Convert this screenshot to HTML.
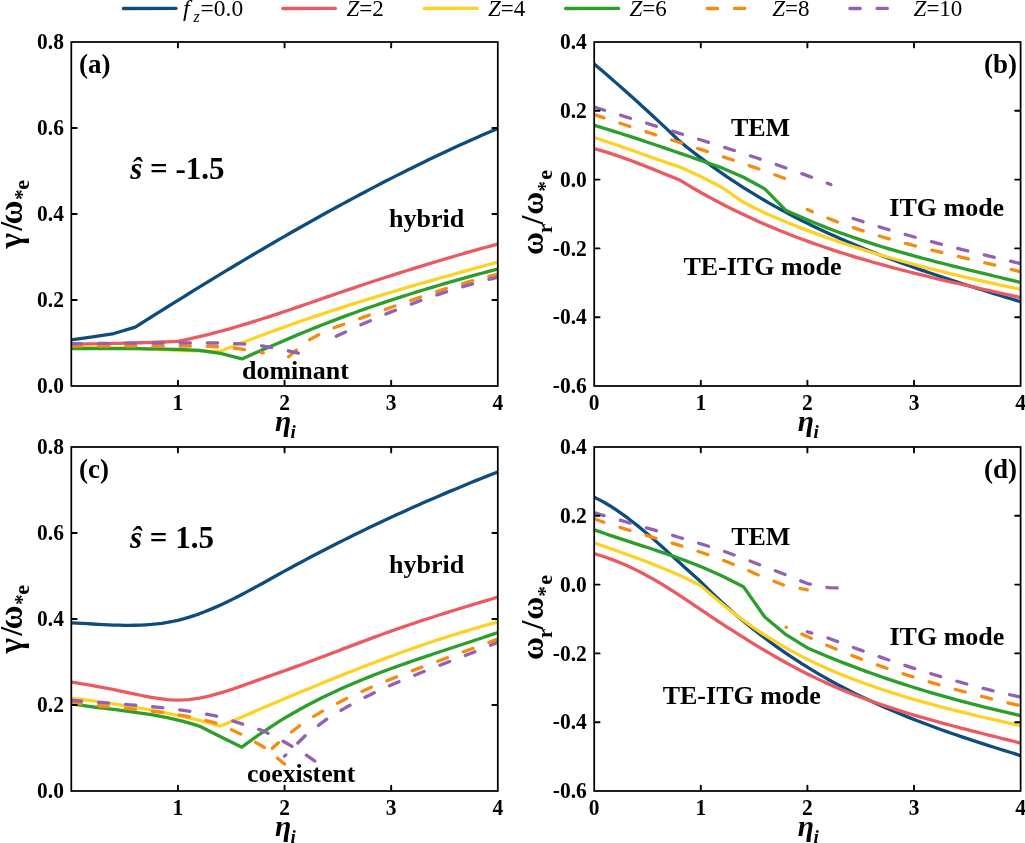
<!DOCTYPE html><html><head><meta charset="utf-8"><style>html,body{margin:0;padding:0;background:#fff;width:1025px;height:843px;overflow:hidden}svg{display:block;will-change:transform}text{font-family:"Liberation Serif",serif}</style></head><body>
<svg width="1025" height="843" viewBox="0 0 1025 843">
<rect width="1025" height="843" fill="#fff"/>
<defs>
<clipPath id="clipa"><rect x="71.3" y="42.0" width="426.50" height="344.00"/></clipPath>
<clipPath id="clipb"><rect x="594.2" y="42.0" width="426.40" height="344.00"/></clipPath>
<clipPath id="clipc"><rect x="71.3" y="447.0" width="426.50" height="344.00"/></clipPath>
<clipPath id="clipd"><rect x="594.2" y="447.0" width="426.40" height="344.00"/></clipPath>
</defs>
<g clip-path="url(#clipa)">
<polyline points="71.30,339.99 92.62,336.98 113.95,333.54 135.27,327.09 140.61,323.74 145.94,320.37 151.27,317.01 156.60,313.66 161.93,310.32 167.26,306.98 172.59,303.66 177.93,300.34 183.26,297.03 188.59,293.73 193.92,290.44 199.25,287.17 204.58,283.90 209.91,280.64 215.24,277.40 220.57,274.17 225.91,270.94 231.24,267.73 236.57,264.54 241.90,261.35 247.23,258.18 252.56,255.02 257.89,251.87 263.22,248.74 268.56,245.62 273.89,242.52 279.22,239.43 284.55,236.35 289.88,233.29 295.21,230.25 300.54,227.22 305.87,224.21 311.21,221.21 316.54,218.23 321.87,215.26 327.20,212.31 332.53,209.38 337.86,206.47 343.19,203.58 348.52,200.70 353.86,197.84 359.19,195.00 364.52,192.17 369.85,189.37 375.18,186.59 380.51,183.82 385.84,181.08 391.18,178.35 396.51,175.65 401.84,172.96 407.17,170.30 412.50,167.66 417.83,165.03 423.16,162.43 428.49,159.86 433.82,157.30 439.16,154.77 444.49,152.25 449.82,149.77 455.15,147.30 460.48,144.86 465.81,142.44 471.14,140.04 476.47,137.67 481.81,135.32 487.14,133.00 492.47,130.70 497.80,128.43" fill="none" stroke="#0f4c7e" stroke-width="3.3" stroke-linejoin="round" stroke-linecap="round"/>
<polyline points="71.30,344.29 76.63,344.19 81.96,344.09 87.29,343.99 92.62,343.88 97.96,343.78 103.29,343.67 108.62,343.56 113.95,343.45 119.28,343.33 124.61,343.20 129.94,343.06 135.28,342.92 140.61,342.76 145.94,342.59 151.27,342.41 156.60,342.22 161.93,342.01 167.26,341.78 172.59,341.54 177.93,341.28 183.26,340.24 188.59,339.12 193.92,337.94 199.25,336.70 204.58,335.42 209.91,334.08 215.24,332.70 220.57,331.28 225.91,329.81 231.24,328.30 236.57,326.76 241.90,325.18 247.23,323.57 252.56,321.92 257.89,320.25 263.23,318.55 268.56,316.83 273.89,315.08 279.22,313.32 284.55,311.54 289.88,309.74 295.21,307.93 300.54,306.11 305.88,304.29 311.21,302.45 316.54,300.61 321.87,298.77 327.20,296.93 332.53,295.10 337.86,293.27 343.19,291.45 348.53,289.63 353.86,287.83 359.19,286.04 364.52,284.26 369.85,282.50 375.18,280.74 380.51,279.00 385.84,277.28 391.18,275.56 396.51,273.86 401.84,272.17 407.17,270.49 412.50,268.83 417.83,267.18 423.16,265.55 428.49,263.92 433.83,262.31 439.16,260.72 444.49,259.14 449.82,257.57 455.15,256.02 460.48,254.48 465.81,252.95 471.14,251.44 476.48,249.95 481.81,248.46 487.14,247.00 492.47,245.55 497.80,244.11" fill="none" stroke="#eb5a62" stroke-width="3.3" stroke-linejoin="round" stroke-linecap="round"/>
<polyline points="71.30,347.73 76.63,347.60 81.96,347.51 87.29,347.47 92.62,347.47 97.96,347.50 103.29,347.57 108.62,347.67 113.95,347.80 119.28,347.95 124.61,348.12 129.94,348.31 135.27,348.52 140.61,348.73 145.94,348.96 151.27,349.19 156.60,349.42 161.93,349.65 167.26,349.88 172.59,350.10 177.92,350.31 183.26,350.50 188.59,350.67 193.92,350.83 199.25,350.96 204.58,351.06 209.91,351.13 215.24,351.17 220.57,351.17 225.91,349.03 231.24,346.92 236.57,344.82 241.90,342.75 247.23,340.70 252.56,338.67 257.89,336.67 263.22,334.68 268.56,332.71 273.89,330.76 279.22,328.84 284.55,326.93 289.88,325.04 295.21,323.17 300.54,321.31 305.88,319.48 311.21,317.66 316.54,315.86 321.87,314.07 327.20,312.30 332.53,310.55 337.86,308.81 343.19,307.09 348.53,305.38 353.86,303.69 359.19,302.01 364.52,300.34 369.85,298.69 375.18,297.05 380.51,295.43 385.84,293.81 391.18,292.21 396.51,290.62 401.84,289.04 407.17,287.48 412.50,285.92 417.83,284.37 423.16,282.84 428.49,281.31 433.82,279.79 439.16,278.28 444.49,276.78 449.82,275.29 455.15,273.80 460.48,272.32 465.81,270.85 471.14,269.39 476.48,267.93 481.81,266.48 487.14,265.03 492.47,263.59 497.80,262.16" fill="none" stroke="#fdd126" stroke-width="3.3" stroke-linejoin="round" stroke-linecap="round"/>
<polyline points="71.30,348.59 76.63,348.59 81.96,348.58 87.29,348.57 92.62,348.57 97.96,348.56 103.29,348.56 108.62,348.56 113.95,348.57 119.28,348.58 124.61,348.60 129.94,348.63 135.27,348.67 140.61,348.72 145.94,348.78 151.27,348.86 156.60,348.95 161.93,349.05 167.26,349.17 172.59,349.31 177.92,349.47 183.26,349.65 188.59,349.85 193.92,350.07 199.25,350.31 220.57,353.32 241.90,358.91 263.23,349.45 284.55,340.42 289.88,338.13 295.21,335.86 300.54,333.63 305.88,331.43 311.21,329.26 316.54,327.12 321.87,325.01 327.20,322.94 332.53,320.89 337.86,318.87 343.19,316.87 348.53,314.91 353.86,312.97 359.19,311.06 364.52,309.17 369.85,307.31 375.18,305.48 380.51,303.67 385.84,301.88 391.18,300.12 396.51,298.38 401.84,296.66 407.17,294.97 412.50,293.29 417.83,291.64 423.16,290.01 428.49,288.40 433.83,286.81 439.16,285.23 444.49,283.68 449.82,282.14 455.15,280.62 460.48,279.12 465.81,277.64 471.14,276.17 476.47,274.71 481.81,273.27 487.14,271.85 492.47,270.44 497.80,269.04" fill="none" stroke="#2b9e2b" stroke-width="3.3" stroke-linejoin="round" stroke-linecap="round"/>
<polyline points="71.30,346.01 76.63,346.01 81.96,346.01 87.29,346.01 92.62,346.01 97.96,346.01 103.29,346.01 108.62,346.01 113.95,346.01 119.28,346.01 124.61,346.01 129.94,346.01 135.27,346.01 140.61,346.01 145.94,346.01 151.27,346.01 156.60,346.01 161.93,346.01 167.26,346.01 172.59,346.01 177.92,346.01 183.26,346.01 188.59,346.01 193.92,346.01 199.25,346.01 220.57,346.87 241.90,349.02 263.23,352.89" fill="none" stroke="#f58b0f" stroke-width="3.3" stroke-linejoin="round" stroke-dasharray="10.3 16.9" stroke-dashoffset="0" stroke-linecap="round"/>
<polyline points="287.75,357.62 305.88,341.71 327.20,330.10 332.53,328.24 337.86,326.37 343.19,324.49 348.53,322.59 353.86,320.68 359.19,318.77 364.52,316.85 369.85,314.93 375.18,313.02 380.51,311.10 385.84,309.19 391.18,307.28 396.51,305.39 401.84,303.50 407.17,301.63 412.50,299.78 417.83,297.95 423.16,296.13 428.49,294.34 433.82,292.58 439.16,290.84 444.49,289.13 449.82,287.45 455.15,285.81 460.48,284.21 465.81,282.64 471.14,281.12 476.47,279.64 481.81,278.20 487.14,276.82 492.47,275.48 497.80,274.20" fill="none" stroke="#f58b0f" stroke-width="3.3" stroke-linejoin="round" stroke-dasharray="10.3 16.9" stroke-dashoffset="26.0" stroke-linecap="round"/>
<polyline points="71.30,343.86 76.63,343.76 81.96,343.67 87.29,343.59 92.62,343.51 97.96,343.44 103.29,343.38 108.62,343.32 113.95,343.27 119.28,343.22 124.61,343.18 129.94,343.14 135.27,343.11 140.61,343.08 145.94,343.05 151.27,343.03 156.60,343.02 161.93,343.00 167.26,342.99 172.59,342.98 177.92,342.98 183.26,342.98 188.59,342.97 193.92,342.98 199.25,342.98 204.58,342.98 209.91,342.99 215.24,342.99 220.57,343.00 241.90,343.86 263.23,346.01 284.55,349.88 300.54,353.75" fill="none" stroke="#9360b4" stroke-width="3.3" stroke-linejoin="round" stroke-dasharray="10.3 16.9" stroke-dashoffset="0" stroke-linecap="round"/>
<polyline points="336.26,336.34 341.65,333.76 347.03,331.22 352.42,328.72 357.80,326.26 363.19,323.84 368.57,321.46 373.96,319.13 379.34,316.83 384.72,314.57 390.11,312.36 395.49,310.19 400.88,308.06 406.26,305.97 411.65,303.93 417.03,301.92 422.42,299.96 427.80,298.05 433.19,296.18 438.57,294.35 443.95,292.56 449.34,290.83 454.72,289.13 460.11,287.48 465.49,285.88 470.88,284.32 476.26,282.80 481.65,281.34 487.03,279.91 492.42,278.54 497.80,277.21" fill="none" stroke="#9360b4" stroke-width="3.3" stroke-linejoin="round" stroke-dasharray="10.3 16.9" stroke-dashoffset="0" stroke-linecap="round"/>
</g>
<g clip-path="url(#clipb)">
<polyline points="594.20,64.02 599.53,68.55 604.86,73.12 610.19,77.72 615.52,82.37 620.85,87.05 626.18,91.77 631.51,96.53 636.84,101.33 642.17,106.16 647.50,111.04 652.83,115.95 658.16,120.90 663.49,125.88 668.82,130.91 674.15,135.97 679.48,141.07 684.81,145.44 690.14,149.69 695.47,153.86 700.80,157.93 706.13,161.92 711.46,165.82 716.79,169.63 722.12,173.37 727.45,177.02 732.78,180.60 738.11,184.10 743.44,187.52 748.77,190.87 754.10,194.15 759.43,197.35 764.76,200.49 770.09,203.56 775.42,206.57 780.75,209.52 786.08,212.40 791.41,215.22 796.74,217.99 802.07,220.69 807.40,223.35 812.73,225.95 818.06,228.50 823.39,231.00 828.72,233.45 834.05,235.86 839.38,238.22 844.71,240.54 850.04,242.82 855.37,245.06 860.70,247.26 866.03,249.42 871.36,251.55 876.69,253.65 882.02,255.71 887.35,257.74 892.68,259.74 898.01,261.71 903.34,263.65 908.67,265.57 914.00,267.46 919.33,269.32 924.66,271.16 929.99,272.98 935.32,274.78 940.65,276.56 945.98,278.32 951.31,280.07 956.64,281.80 961.97,283.51 967.30,285.21 972.63,286.90 977.96,288.57 983.29,290.24 988.62,291.90 993.95,293.55 999.28,295.19 1004.61,296.83 1009.94,298.47 1015.27,300.10 1020.60,301.74" fill="none" stroke="#0f4c7e" stroke-width="3.3" stroke-linejoin="round" stroke-linecap="round"/>
<polyline points="594.20,148.64 599.53,150.11 604.86,151.69 610.19,153.36 615.52,155.12 620.85,156.95 626.18,158.85 631.51,160.82 636.84,162.84 642.17,164.90 647.50,167.00 652.83,169.13 658.16,171.28 663.49,173.45 668.82,175.62 674.15,177.79 679.48,179.94 684.81,183.19 690.14,186.36 695.47,189.47 700.80,192.51 706.13,195.49 711.46,198.40 716.79,201.25 722.12,204.03 727.45,206.76 732.78,209.43 738.11,212.03 743.44,214.58 748.77,217.08 754.10,219.52 759.43,221.91 764.76,224.24 770.09,226.53 775.42,228.76 780.75,230.94 786.08,233.08 791.41,235.17 796.74,237.22 802.07,239.22 807.40,241.17 812.73,243.09 818.06,244.96 823.39,246.80 828.72,248.60 834.05,250.36 839.38,252.08 844.71,253.77 850.04,255.42 855.37,257.05 860.70,258.64 866.03,260.20 871.36,261.73 876.69,263.24 882.02,264.71 887.35,266.16 892.68,267.59 898.01,269.00 903.34,270.38 908.67,271.74 914.00,273.08 919.33,274.41 924.66,275.71 929.99,277.00 935.32,278.28 940.65,279.54 945.98,280.79 951.31,282.02 956.64,283.25 961.97,284.47 967.30,285.68 972.63,286.88 977.96,288.08 983.29,289.27 988.62,290.46 993.95,291.65 999.28,292.83 1004.61,294.02 1009.94,295.21 1015.27,296.40 1020.60,297.59" fill="none" stroke="#eb5a62" stroke-width="3.3" stroke-linejoin="round" stroke-linecap="round"/>
<polyline points="594.20,137.63 599.53,139.27 604.86,140.97 610.19,142.73 615.52,144.53 620.85,146.37 626.18,148.25 631.51,150.14 636.84,152.05 642.17,153.96 647.50,155.88 652.83,157.78 658.16,159.67 663.49,161.53 668.82,163.35 674.15,165.14 679.48,166.87 700.80,176.50 722.12,187.51 743.44,202.30 764.76,212.97 770.09,215.29 775.42,217.57 780.75,219.81 786.08,222.01 791.41,224.16 796.74,226.28 802.07,228.36 807.40,230.40 812.73,232.41 818.06,234.38 823.39,236.31 828.72,238.21 834.05,240.07 839.38,241.90 844.71,243.70 850.04,245.46 855.37,247.20 860.70,248.90 866.03,250.57 871.36,252.22 876.69,253.83 882.02,255.42 887.35,256.98 892.68,258.51 898.01,260.02 903.34,261.51 908.67,262.97 914.00,264.40 919.33,265.82 924.66,267.21 929.99,268.58 935.32,269.93 940.65,271.26 945.98,272.57 951.31,273.87 956.64,275.14 961.97,276.40 967.30,277.64 972.63,278.87 977.96,280.08 983.29,281.28 988.62,282.47 993.95,283.64 999.28,284.80 1004.61,285.95 1009.94,287.09 1015.27,288.22 1020.60,289.34" fill="none" stroke="#fdd126" stroke-width="3.3" stroke-linejoin="round" stroke-linecap="round"/>
<polyline points="594.20,125.25 599.53,126.85 604.86,128.48 610.19,130.14 615.52,131.81 620.85,133.50 626.18,135.21 631.51,136.93 636.84,138.68 642.17,140.43 647.50,142.21 652.83,143.99 658.16,145.79 663.49,147.59 668.82,149.41 674.15,151.24 679.48,153.07 684.81,154.91 690.14,156.76 695.47,158.61 700.80,160.47 706.13,162.33 711.46,164.19 716.79,166.04 722.12,167.90 743.44,177.19 764.76,188.89 786.08,210.56 807.40,219.85 812.73,222.08 818.06,224.26 823.39,226.39 828.72,228.46 834.05,230.49 839.38,232.46 844.71,234.39 850.04,236.28 855.37,238.11 860.70,239.91 866.03,241.67 871.36,243.38 876.69,245.06 882.02,246.71 887.35,248.32 892.68,249.90 898.01,251.44 903.34,252.96 908.67,254.45 914.00,255.92 919.33,257.36 924.66,258.78 929.99,260.18 935.32,261.56 940.65,262.92 945.98,264.27 951.31,265.60 956.64,266.92 961.97,268.24 967.30,269.54 972.63,270.83 977.96,272.12 983.29,273.41 988.62,274.70 993.95,275.98 999.28,277.26 1004.61,278.55 1009.94,279.85 1015.27,281.15 1020.60,282.45" fill="none" stroke="#2b9e2b" stroke-width="3.3" stroke-linejoin="round" stroke-linecap="round"/>
<polyline points="594.20,114.58 599.53,116.39 604.86,118.19 610.19,119.97 615.52,121.74 620.85,123.50 626.18,125.26 631.51,127.00 636.84,128.74 642.17,130.47 647.50,132.20 652.83,133.92 658.16,135.64 663.49,137.36 668.82,139.08 674.15,140.79 679.48,142.51 684.81,144.24 690.14,145.96 695.47,147.69 700.80,149.43 706.13,151.17 711.46,152.93 716.79,154.69 722.12,156.46 727.45,158.24 732.78,160.04 738.11,161.85 743.44,163.67 748.77,165.51 754.10,167.36 759.43,169.24 764.76,171.13 770.09,173.04 775.42,174.98 780.75,176.93 786.08,178.91" fill="none" stroke="#f58b0f" stroke-width="3.3" stroke-linejoin="round" stroke-dasharray="10.3 16.9" stroke-dashoffset="0" stroke-linecap="round"/>
<polyline points="807.40,209.53 812.73,211.90 818.06,214.19 823.39,216.41 828.72,218.56 834.05,220.65 839.38,222.66 844.71,224.62 850.04,226.51 855.37,228.35 860.70,230.13 866.03,231.86 871.36,233.54 876.69,235.18 882.02,236.77 887.35,238.33 892.68,239.84 898.01,241.32 903.34,242.76 908.67,244.18 914.00,245.57 919.33,246.93 924.66,248.28 929.99,249.60 935.32,250.91 940.65,252.20 945.98,253.48 951.31,254.76 956.64,256.02 961.97,257.29 967.30,258.56 972.63,259.82 977.96,261.10 983.29,262.38 988.62,263.67 993.95,264.97 999.28,266.30 1004.61,267.64 1009.94,269.00 1015.27,270.38 1020.60,271.79" fill="none" stroke="#f58b0f" stroke-width="3.3" stroke-linejoin="round" stroke-dasharray="10.3 16.9" stroke-dashoffset="4.9" stroke-linecap="round"/>
<polyline points="594.20,107.01 599.58,108.70 604.96,110.39 610.34,112.07 615.71,113.74 621.09,115.40 626.47,117.06 631.85,118.71 637.23,120.37 642.61,122.02 647.98,123.66 653.36,125.31 658.74,126.96 664.12,128.60 669.50,130.25 674.88,131.90 680.26,133.56 685.63,135.22 691.01,136.88 696.39,138.55 701.77,140.22 707.15,141.91 712.53,143.60 717.90,145.30 723.28,147.01 728.66,148.73 734.04,150.46 739.42,152.21 744.80,153.97 750.18,155.74 755.55,157.53 760.93,159.33 766.31,161.15 771.69,162.99 777.07,164.84 782.45,166.72 787.82,168.61 793.20,170.53 798.58,172.46 803.96,174.42 809.34,176.40 814.72,178.41 820.10,180.44 825.47,182.50 830.85,184.58" fill="none" stroke="#9360b4" stroke-width="3.3" stroke-linejoin="round" stroke-dasharray="10.3 16.9" stroke-dashoffset="26.7" stroke-linecap="round"/>
<polyline points="853.24,218.47 858.64,220.26 864.04,222.01 869.43,223.73 874.83,225.43 880.23,227.09 885.63,228.73 891.03,230.34 896.43,231.92 901.83,233.48 907.23,235.02 912.62,236.53 918.02,238.03 923.42,239.50 928.82,240.95 934.22,242.38 939.62,243.79 945.02,245.19 950.42,246.57 955.81,247.94 961.21,249.29 966.61,250.63 972.01,251.96 977.41,253.28 982.81,254.59 988.21,255.88 993.61,257.17 999.00,258.46 1004.40,259.73 1009.80,261.00 1015.20,262.27 1020.60,263.54" fill="none" stroke="#9360b4" stroke-width="3.3" stroke-linejoin="round" stroke-dasharray="10.3 16.9" stroke-dashoffset="0" stroke-linecap="round"/>
</g>
<g clip-path="url(#clipc)">
<polyline points="71.30,622.87 76.63,623.11 81.96,623.38 87.29,623.68 92.62,623.98 97.96,624.28 103.29,624.56 108.62,624.82 113.95,625.03 119.28,625.20 124.61,625.30 129.94,625.33 135.28,625.27 140.61,625.12 145.94,624.85 151.27,624.47 156.60,623.95 161.93,623.28 167.26,622.46 172.59,621.47 177.93,620.30 183.26,618.94 188.59,617.40 193.92,615.69 199.25,613.83 204.58,611.81 209.91,609.65 215.24,607.37 220.57,604.98 225.91,602.47 231.24,599.88 236.57,597.20 241.90,594.44 247.23,591.63 252.56,588.77 257.89,585.86 263.23,582.93 268.56,579.97 273.89,577.01 279.22,574.06 284.55,571.12 289.88,568.20 295.21,565.30 300.54,562.44 305.88,559.59 311.21,556.77 316.54,553.98 321.87,551.20 327.20,548.46 332.53,545.73 337.86,543.03 343.19,540.35 348.53,537.70 353.86,535.07 359.19,532.46 364.52,529.87 369.85,527.31 375.18,524.76 380.51,522.24 385.84,519.74 391.18,517.27 396.51,514.81 401.84,512.38 407.17,509.96 412.50,507.57 417.83,505.20 423.16,502.85 428.49,500.51 433.83,498.20 439.16,495.91 444.49,493.64 449.82,491.38 455.15,489.15 460.48,486.93 465.81,484.74 471.14,482.56 476.48,480.40 481.81,478.26 487.14,476.14 492.47,474.03 497.80,471.94" fill="none" stroke="#0f4c7e" stroke-width="3.3" stroke-linejoin="round" stroke-linecap="round"/>
<polyline points="71.30,682.21 76.63,682.98 81.96,683.80 87.29,684.69 92.62,685.62 97.96,686.59 103.29,687.61 108.62,688.65 113.95,689.72 119.28,690.81 124.61,691.92 129.94,693.03 135.28,694.15 140.61,695.25 145.94,696.32 151.27,697.32 156.60,698.22 161.93,698.97 167.26,699.55 172.59,699.92 177.93,700.05 183.26,699.92 188.59,699.53 193.92,698.90 199.25,698.06 204.58,697.02 209.91,695.80 215.24,694.43 220.57,692.92 225.91,691.29 231.24,689.57 236.57,687.77 241.90,685.91 247.23,684.01 252.56,682.09 257.89,680.17 263.23,678.26 268.56,676.37 273.89,674.50 279.22,672.62 284.55,670.74 289.88,668.83 295.21,666.90 300.54,664.95 305.88,662.98 311.21,660.99 316.54,658.99 321.87,656.98 327.20,654.97 332.53,652.95 337.86,650.92 343.19,648.90 348.53,646.87 353.86,644.86 359.19,642.85 364.52,640.85 369.85,638.87 375.18,636.90 380.51,634.95 385.84,633.02 391.18,631.11 396.51,629.23 401.84,627.38 407.17,625.55 412.50,623.74 417.83,621.95 423.16,620.19 428.49,618.45 433.83,616.72 439.16,615.02 444.49,613.33 449.82,611.65 455.15,610.00 460.48,608.35 465.81,606.72 471.14,605.10 476.48,603.50 481.81,601.90 487.14,600.31 492.47,598.73 497.80,597.16" fill="none" stroke="#eb5a62" stroke-width="3.3" stroke-linejoin="round" stroke-linecap="round"/>
<polyline points="71.30,698.12 76.63,698.80 81.96,699.50 87.29,700.20 92.62,700.92 97.96,701.66 103.29,702.41 108.62,703.19 113.95,703.98 119.28,704.79 124.61,705.63 129.94,706.49 135.27,707.38 140.61,708.29 145.94,709.23 151.27,710.20 156.60,711.20 161.93,712.23 167.26,713.30 172.59,714.40 177.92,715.54 183.26,716.71 188.59,717.92 193.92,719.17 199.25,720.47 204.58,721.80 209.91,723.18 215.24,724.60 220.57,726.07 225.91,723.78 231.24,721.50 236.57,719.21 241.90,716.93 247.23,714.65 252.56,712.37 257.89,710.09 263.22,707.82 268.56,705.55 273.89,703.29 279.22,701.03 284.55,698.78 289.88,696.54 295.21,694.30 300.54,692.07 305.88,689.86 311.21,687.65 316.54,685.45 321.87,683.26 327.20,681.09 332.53,678.93 337.86,676.78 343.19,674.65 348.53,672.53 353.86,670.42 359.19,668.34 364.52,666.27 369.85,664.21 375.18,662.18 380.51,660.16 385.84,658.17 391.18,656.19 396.51,654.24 401.84,652.30 407.17,650.39 412.50,648.51 417.83,646.64 423.16,644.80 428.49,642.99 433.82,641.20 439.16,639.44 444.49,637.71 449.82,636.00 455.15,634.32 460.48,632.67 465.81,631.05 471.14,629.47 476.48,627.91 481.81,626.39 487.14,624.90 492.47,623.44 497.80,622.01" fill="none" stroke="#fdd126" stroke-width="3.3" stroke-linejoin="round" stroke-linecap="round"/>
<polyline points="71.30,703.71 76.63,704.55 81.96,705.33 87.29,706.08 92.62,706.80 97.96,707.49 103.29,708.16 108.62,708.82 113.95,709.48 119.28,710.15 124.61,710.83 129.94,711.53 135.27,712.26 140.61,713.02 145.94,713.84 151.27,714.70 156.60,715.62 161.93,716.61 167.26,717.67 172.59,718.82 177.92,720.06 183.26,721.40 188.59,722.84 193.92,724.39 199.25,726.07 220.57,736.82 241.90,747.14 247.23,743.13 252.56,739.26 257.89,735.49 263.23,731.83 268.56,728.28 273.89,724.82 279.22,721.47 284.55,718.21 289.88,715.04 295.21,711.96 300.54,708.97 305.88,706.06 311.21,703.24 316.54,700.49 321.87,697.81 327.20,695.21 332.53,692.68 337.86,690.21 343.19,687.81 348.53,685.46 353.86,683.18 359.19,680.95 364.52,678.77 369.85,676.64 375.18,674.55 380.51,672.51 385.84,670.51 391.18,668.54 396.51,666.61 401.84,664.71 407.17,662.84 412.50,660.99 417.83,659.17 423.16,657.36 428.49,655.58 433.82,653.80 439.16,652.04 444.49,650.29 449.82,648.54 455.15,646.79 460.48,645.04 465.81,643.29 471.14,641.53 476.47,639.76 481.81,637.98 487.14,636.18 492.47,634.37 497.80,632.53" fill="none" stroke="#2b9e2b" stroke-width="3.3" stroke-linejoin="round" stroke-linecap="round"/>
<polyline points="71.30,702.42 76.63,703.16 81.96,703.85 87.29,704.50 92.62,705.12 97.96,705.70 103.29,706.26 108.62,706.80 113.95,707.33 119.28,707.86 124.61,708.38 129.94,708.90 135.27,709.44 140.61,709.99 145.94,710.57 151.27,711.17 156.60,711.80 161.93,712.47 167.26,713.19 172.59,713.96 177.92,714.79 183.26,715.67 188.59,716.63 193.92,717.65 199.25,718.76 220.57,724.35 241.90,734.67 263.23,746.71 284.55,763.91" fill="none" stroke="#f58b0f" stroke-width="3.3" stroke-linejoin="round" stroke-dasharray="10.3 16.9" stroke-dashoffset="0" stroke-linecap="round"/>
<polyline points="272.29,748.30 284.55,737.25 305.88,720.91 327.20,708.44 332.53,705.64 337.86,702.92 343.19,700.26 348.53,697.67 353.86,695.15 359.19,692.69 364.52,690.28 369.85,687.93 375.18,685.63 380.51,683.37 385.84,681.16 391.18,678.99 396.51,676.85 401.84,674.75 407.17,672.69 412.50,670.64 417.83,668.63 423.16,666.63 428.49,664.65 433.82,662.68 439.16,660.73 444.49,658.78 449.82,656.84 455.15,654.89 460.48,652.95 465.81,651.00 471.14,649.04 476.47,647.07 481.81,645.08 487.14,643.08 492.47,641.05 497.80,638.99" fill="none" stroke="#f58b0f" stroke-width="3.3" stroke-linejoin="round" stroke-dasharray="10.3 16.9" stroke-dashoffset="2.0" stroke-linecap="round"/>
<polyline points="71.30,700.27 76.63,700.72 81.96,701.15 87.29,701.57 92.62,701.98 97.96,702.38 103.29,702.77 108.62,703.16 113.95,703.56 119.28,703.96 124.61,704.36 129.94,704.78 135.27,705.21 140.61,705.66 145.94,706.13 151.27,706.63 156.60,707.15 161.93,707.71 167.26,708.30 172.59,708.93 177.92,709.59 183.26,710.31 188.59,711.07 193.92,711.88 199.25,712.74 220.57,717.04 241.90,723.92 263.23,730.80 284.55,741.98 305.88,754.88 316.54,762.19" fill="none" stroke="#9360b4" stroke-width="3.3" stroke-linejoin="round" stroke-dasharray="10.3 16.9" stroke-dashoffset="0" stroke-linecap="round"/>
<polyline points="284.55,756.17 305.88,735.10 327.20,718.76 332.53,715.42 337.86,712.18 343.19,709.06 348.53,706.05 353.86,703.13 359.19,700.31 364.52,697.57 369.85,694.92 375.18,692.34 380.51,689.84 385.84,687.41 391.18,685.04 396.51,682.72 401.84,680.45 407.17,678.23 412.50,676.05 417.83,673.91 423.16,671.79 428.49,669.70 433.82,667.62 439.16,665.56 444.49,663.51 449.82,661.46 455.15,659.40 460.48,657.34 465.81,655.27 471.14,653.17 476.47,651.05 481.81,648.90 487.14,646.72 492.47,644.49 497.80,642.22" fill="none" stroke="#9360b4" stroke-width="3.3" stroke-linejoin="round" stroke-dasharray="10.3 16.9" stroke-dashoffset="8.5" stroke-linecap="round"/>
</g>
<g clip-path="url(#clipd)">
<polyline points="594.20,497.22 599.53,499.86 604.86,502.78 610.19,505.97 615.52,509.39 620.85,513.04 626.18,516.90 631.51,520.94 636.84,525.15 642.17,529.51 647.50,534.00 652.83,538.59 658.16,543.28 663.49,548.05 668.82,552.87 674.15,557.72 679.48,562.59 684.81,567.45 690.14,572.30 695.47,577.10 700.80,581.85 706.13,587.20 711.46,592.41 716.79,597.50 722.12,602.46 727.45,607.30 732.78,612.03 738.11,616.64 743.44,621.14 748.77,625.53 754.10,629.81 759.43,633.98 764.76,638.05 770.09,642.03 775.42,645.90 780.75,649.67 786.08,653.35 791.41,656.94 796.74,660.44 802.07,663.86 807.40,667.18 812.73,670.43 818.06,673.60 823.39,676.68 828.72,679.70 834.05,682.63 839.38,685.50 844.71,688.30 850.04,691.04 855.37,693.71 860.70,696.31 866.03,698.86 871.36,701.35 876.69,703.79 882.02,706.18 887.35,708.51 892.68,710.79 898.01,713.03 903.34,715.22 908.67,717.37 914.00,719.47 919.33,721.54 924.66,723.57 929.99,725.56 935.32,727.51 940.65,729.44 945.98,731.33 951.31,733.19 956.64,735.03 961.97,736.84 967.30,738.63 972.63,740.39 977.96,742.13 983.29,743.86 988.62,745.57 993.95,747.27 999.28,748.95 1004.61,750.62 1009.94,752.28 1015.27,753.94 1020.60,755.58" fill="none" stroke="#0f4c7e" stroke-width="3.3" stroke-linejoin="round" stroke-linecap="round"/>
<polyline points="594.20,553.65 599.53,555.23 604.86,556.96 610.19,558.84 615.52,560.87 620.85,563.04 626.18,565.34 631.51,567.79 636.84,570.37 642.17,573.09 647.50,575.93 652.83,578.90 658.16,581.99 663.49,585.21 668.82,588.52 674.15,591.93 679.48,595.40 684.81,598.93 690.14,602.49 695.47,606.07 700.80,609.65 706.13,613.22 711.46,616.77 716.79,620.29 722.12,623.79 727.45,627.26 732.78,630.70 738.11,634.11 743.44,637.47 748.77,640.80 754.10,644.09 759.43,647.33 764.76,650.52 770.09,653.66 775.42,656.74 780.75,659.77 786.08,662.74 791.41,665.65 796.74,668.48 802.07,671.26 807.40,673.95 812.73,676.58 818.06,679.13 823.39,681.61 828.72,684.03 834.05,686.37 839.38,688.66 844.71,690.88 850.04,693.04 855.37,695.14 860.70,697.19 866.03,699.18 871.36,701.13 876.69,703.02 882.02,704.87 887.35,706.67 892.68,708.42 898.01,710.14 903.34,711.82 908.67,713.46 914.00,715.06 919.33,716.64 924.66,718.18 929.99,719.69 935.32,721.18 940.65,722.65 945.98,724.09 951.31,725.51 956.64,726.91 961.97,728.30 967.30,729.67 972.63,731.04 977.96,732.39 983.29,733.73 988.62,735.07 993.95,736.41 999.28,737.75 1004.61,739.08 1009.94,740.42 1015.27,741.77 1020.60,743.12" fill="none" stroke="#eb5a62" stroke-width="3.3" stroke-linejoin="round" stroke-linecap="round"/>
<polyline points="594.20,542.87 599.53,544.75 604.86,546.63 610.19,548.50 615.52,550.38 620.85,552.27 626.18,554.18 631.51,556.11 636.84,558.07 642.17,560.05 647.50,562.08 652.83,564.15 658.16,566.27 663.49,568.45 668.82,570.68 674.15,572.98 679.48,575.35 684.81,577.79 690.14,580.31 695.47,582.93 700.80,585.63 706.13,590.37 711.46,595.01 716.79,599.52 722.12,603.92 727.45,608.20 732.78,612.37 738.11,616.42 743.44,620.36 748.77,624.19 754.10,627.91 759.43,631.51 764.76,635.01 770.09,638.41 775.42,641.69 780.75,644.87 786.08,647.95 791.41,650.93 796.74,653.81 802.07,656.60 807.40,659.29 812.73,661.89 818.06,664.42 823.39,666.86 828.72,669.22 834.05,671.51 839.38,673.74 844.71,675.89 850.04,677.99 855.37,680.02 860.70,682.00 866.03,683.93 871.36,685.81 876.69,687.64 882.02,689.44 887.35,691.19 892.68,692.90 898.01,694.57 903.34,696.21 908.67,697.81 914.00,699.37 919.33,700.90 924.66,702.40 929.99,703.88 935.32,705.32 940.65,706.73 945.98,708.12 951.31,709.48 956.64,710.83 961.97,712.15 967.30,713.44 972.63,714.73 977.96,715.99 983.29,717.24 988.62,718.47 993.95,719.69 999.28,720.90 1004.61,722.10 1009.94,723.29 1015.27,724.47 1020.60,725.64" fill="none" stroke="#fdd126" stroke-width="3.3" stroke-linejoin="round" stroke-linecap="round"/>
<polyline points="594.20,529.80 599.53,531.68 604.86,533.52 610.19,535.33 615.52,537.11 620.85,538.87 626.18,540.61 631.51,542.34 636.84,544.08 642.17,545.81 647.50,547.55 652.83,549.30 658.16,551.07 663.49,552.87 668.82,554.70 674.15,556.56 679.48,558.46 684.81,560.41 690.14,562.42 695.47,564.48 700.80,566.61 722.12,576.10 743.44,586.66 764.76,616.94 786.08,634.72 807.40,647.90 812.73,650.22 818.06,652.50 823.39,654.74 828.72,656.95 834.05,659.11 839.38,661.24 844.71,663.34 850.04,665.39 855.37,667.41 860.70,669.40 866.03,671.35 871.36,673.27 876.69,675.15 882.02,677.01 887.35,678.83 892.68,680.61 898.01,682.37 903.34,684.10 908.67,685.80 914.00,687.47 919.33,689.11 924.66,690.72 929.99,692.31 935.32,693.87 940.65,695.40 945.98,696.91 951.31,698.39 956.64,699.85 961.97,701.29 967.30,702.70 972.63,704.09 977.96,705.45 983.29,706.80 988.62,708.12 993.95,709.43 999.28,710.71 1004.61,711.98 1009.94,713.22 1015.27,714.45 1020.60,715.66" fill="none" stroke="#2b9e2b" stroke-width="3.3" stroke-linejoin="round" stroke-linecap="round"/>
<polyline points="594.20,518.90 599.53,520.74 604.86,522.54 610.19,524.29 615.52,526.00 620.85,527.67 626.18,529.32 631.51,530.94 636.84,532.55 642.17,534.14 647.50,535.72 652.83,537.30 658.16,538.89 663.49,540.47 668.82,542.07 674.15,543.69 679.48,545.33 684.81,546.99 690.14,548.69 695.47,550.43 700.80,552.20 706.13,554.03 711.46,555.90 716.79,557.84 722.12,559.83 743.44,568.43 764.76,577.72 786.08,585.98 807.40,589.76" fill="none" stroke="#f58b0f" stroke-width="3.3" stroke-linejoin="round" stroke-dasharray="10.3 16.9" stroke-dashoffset="0" stroke-linecap="round"/>
<polyline points="786.08,627.26 807.40,636.54 812.73,638.99 818.06,641.38 823.39,643.72 828.72,646.02 834.05,648.27 839.38,650.48 844.71,652.64 850.04,654.77 855.37,656.85 860.70,658.88 866.03,660.88 871.36,662.84 876.69,664.77 882.02,666.65 887.35,668.50 892.68,670.32 898.01,672.10 903.34,673.85 908.67,675.57 914.00,677.25 919.33,678.90 924.66,680.53 929.99,682.13 935.32,683.70 940.65,685.24 945.98,686.76 951.31,688.25 956.64,689.72 961.97,691.17 967.30,692.59 972.63,694.00 977.96,695.38 983.29,696.75 988.62,698.10 993.95,699.43 999.28,700.74 1004.61,702.04 1009.94,703.33 1015.27,704.60 1020.60,705.86" fill="none" stroke="#f58b0f" stroke-width="3.3" stroke-linejoin="round" stroke-dasharray="10.3 16.9" stroke-dashoffset="10.0" stroke-linecap="round"/>
<polyline points="594.20,512.70 599.53,514.26 604.86,515.82 610.19,517.36 615.52,518.91 620.85,520.45 626.18,521.98 631.51,523.52 636.84,525.05 642.17,526.59 647.50,528.13 652.83,529.67 658.16,531.22 663.49,532.77 668.82,534.33 674.15,535.89 679.48,537.47 684.81,539.05 690.14,540.65 695.47,542.26 700.80,543.89 706.13,545.52 711.46,547.18 716.79,548.85 722.12,550.54 743.44,558.46 764.76,566.71 786.08,574.97 807.40,583.57 828.72,587.70 839.38,588.04" fill="none" stroke="#9360b4" stroke-width="3.3" stroke-linejoin="round" stroke-dasharray="10.3 16.9" stroke-dashoffset="0" stroke-linecap="round"/>
<polyline points="807.40,631.73 828.72,638.26 834.05,640.28 839.38,642.28 844.71,644.26 850.04,646.23 855.37,648.18 860.70,650.11 866.03,652.02 871.36,653.91 876.69,655.79 882.02,657.64 887.35,659.48 892.68,661.29 898.01,663.08 903.34,664.85 908.67,666.60 914.00,668.32 919.33,670.02 924.66,671.69 929.99,673.34 935.32,674.97 940.65,676.57 945.98,678.14 951.31,679.69 956.64,681.20 961.97,682.69 967.30,684.16 972.63,685.59 977.96,686.99 983.29,688.36 988.62,689.71 993.95,691.02 999.28,692.30 1004.61,693.54 1009.94,694.76 1015.27,695.94 1020.60,697.09" fill="none" stroke="#9360b4" stroke-width="3.3" stroke-linejoin="round" stroke-dasharray="10.3 16.9" stroke-dashoffset="5.7" stroke-linecap="round"/>
</g>
<path d="M177.93,385.10V380.60M177.93,42.90V47.40M284.55,385.10V380.60M284.55,42.90V47.40M391.18,385.10V380.60M391.18,42.90V47.40M72.20,300.00H76.70M496.90,300.00H492.40M72.20,214.00H76.70M496.90,214.00H492.40M72.20,128.00H76.70M496.90,128.00H492.40" stroke="#000" stroke-width="1.9" stroke-linecap="round" fill="none"/>
<rect x="71.3" y="42.0" width="426.50" height="344.00" fill="none" stroke="#000" stroke-width="1.75"/>
<text transform="translate(177.93,409.60) scale(1,1.055)" font-size="21.5" font-weight="bold" text-anchor="middle">1</text>
<text transform="translate(284.55,409.60) scale(1,1.055)" font-size="21.5" font-weight="bold" text-anchor="middle">2</text>
<text transform="translate(391.18,409.60) scale(1,1.055)" font-size="21.5" font-weight="bold" text-anchor="middle">3</text>
<text transform="translate(497.80,409.60) scale(1,1.055)" font-size="21.5" font-weight="bold" text-anchor="middle">4</text>
<text transform="translate(63.90,393.20) scale(1,1.065)" font-size="21.5" font-weight="bold" text-anchor="end">0.0</text>
<text transform="translate(63.90,307.20) scale(1,1.065)" font-size="21.5" font-weight="bold" text-anchor="end">0.2</text>
<text transform="translate(63.90,221.20) scale(1,1.065)" font-size="21.5" font-weight="bold" text-anchor="end">0.4</text>
<text transform="translate(63.90,135.20) scale(1,1.065)" font-size="21.5" font-weight="bold" text-anchor="end">0.6</text>
<text transform="translate(63.90,49.20) scale(1,1.065)" font-size="21.5" font-weight="bold" text-anchor="end">0.8</text>
<path d="M700.80,385.10V380.60M700.80,42.90V47.40M807.40,385.10V380.60M807.40,42.90V47.40M914.00,385.10V380.60M914.00,42.90V47.40M595.10,317.20H599.60M1019.70,317.20H1015.20M595.10,248.40H599.60M1019.70,248.40H1015.20M595.10,179.60H599.60M1019.70,179.60H1015.20M595.10,110.80H599.60M1019.70,110.80H1015.20" stroke="#000" stroke-width="1.9" stroke-linecap="round" fill="none"/>
<rect x="594.2" y="42.0" width="426.40" height="344.00" fill="none" stroke="#000" stroke-width="1.75"/>
<text transform="translate(594.20,409.60) scale(1,1.055)" font-size="21.5" font-weight="bold" text-anchor="middle">0</text>
<text transform="translate(700.80,409.60) scale(1,1.055)" font-size="21.5" font-weight="bold" text-anchor="middle">1</text>
<text transform="translate(807.40,409.60) scale(1,1.055)" font-size="21.5" font-weight="bold" text-anchor="middle">2</text>
<text transform="translate(914.00,409.60) scale(1,1.055)" font-size="21.5" font-weight="bold" text-anchor="middle">3</text>
<text transform="translate(1020.60,409.60) scale(1,1.055)" font-size="21.5" font-weight="bold" text-anchor="middle">4</text>
<text transform="translate(586.80,393.20) scale(1,1.065)" font-size="21.5" font-weight="bold" text-anchor="end">-0.6</text>
<text transform="translate(586.80,324.40) scale(1,1.065)" font-size="21.5" font-weight="bold" text-anchor="end">-0.4</text>
<text transform="translate(586.80,255.60) scale(1,1.065)" font-size="21.5" font-weight="bold" text-anchor="end">-0.2</text>
<text transform="translate(586.80,186.80) scale(1,1.065)" font-size="21.5" font-weight="bold" text-anchor="end">0.0</text>
<text transform="translate(586.80,118.00) scale(1,1.065)" font-size="21.5" font-weight="bold" text-anchor="end">0.2</text>
<text transform="translate(586.80,49.20) scale(1,1.065)" font-size="21.5" font-weight="bold" text-anchor="end">0.4</text>
<path d="M177.93,790.10V785.60M177.93,447.90V452.40M284.55,790.10V785.60M284.55,447.90V452.40M391.18,790.10V785.60M391.18,447.90V452.40M72.20,705.00H76.70M496.90,705.00H492.40M72.20,619.00H76.70M496.90,619.00H492.40M72.20,533.00H76.70M496.90,533.00H492.40" stroke="#000" stroke-width="1.9" stroke-linecap="round" fill="none"/>
<rect x="71.3" y="447.0" width="426.50" height="344.00" fill="none" stroke="#000" stroke-width="1.75"/>
<text transform="translate(177.93,814.60) scale(1,1.055)" font-size="21.5" font-weight="bold" text-anchor="middle">1</text>
<text transform="translate(284.55,814.60) scale(1,1.055)" font-size="21.5" font-weight="bold" text-anchor="middle">2</text>
<text transform="translate(391.18,814.60) scale(1,1.055)" font-size="21.5" font-weight="bold" text-anchor="middle">3</text>
<text transform="translate(497.80,814.60) scale(1,1.055)" font-size="21.5" font-weight="bold" text-anchor="middle">4</text>
<text transform="translate(63.90,798.20) scale(1,1.065)" font-size="21.5" font-weight="bold" text-anchor="end">0.0</text>
<text transform="translate(63.90,712.20) scale(1,1.065)" font-size="21.5" font-weight="bold" text-anchor="end">0.2</text>
<text transform="translate(63.90,626.20) scale(1,1.065)" font-size="21.5" font-weight="bold" text-anchor="end">0.4</text>
<text transform="translate(63.90,540.20) scale(1,1.065)" font-size="21.5" font-weight="bold" text-anchor="end">0.6</text>
<text transform="translate(63.90,454.20) scale(1,1.065)" font-size="21.5" font-weight="bold" text-anchor="end">0.8</text>
<path d="M700.80,790.10V785.60M700.80,447.90V452.40M807.40,790.10V785.60M807.40,447.90V452.40M914.00,790.10V785.60M914.00,447.90V452.40M595.10,722.20H599.60M1019.70,722.20H1015.20M595.10,653.40H599.60M1019.70,653.40H1015.20M595.10,584.60H599.60M1019.70,584.60H1015.20M595.10,515.80H599.60M1019.70,515.80H1015.20" stroke="#000" stroke-width="1.9" stroke-linecap="round" fill="none"/>
<rect x="594.2" y="447.0" width="426.40" height="344.00" fill="none" stroke="#000" stroke-width="1.75"/>
<text transform="translate(594.20,814.60) scale(1,1.055)" font-size="21.5" font-weight="bold" text-anchor="middle">0</text>
<text transform="translate(700.80,814.60) scale(1,1.055)" font-size="21.5" font-weight="bold" text-anchor="middle">1</text>
<text transform="translate(807.40,814.60) scale(1,1.055)" font-size="21.5" font-weight="bold" text-anchor="middle">2</text>
<text transform="translate(914.00,814.60) scale(1,1.055)" font-size="21.5" font-weight="bold" text-anchor="middle">3</text>
<text transform="translate(1020.60,814.60) scale(1,1.055)" font-size="21.5" font-weight="bold" text-anchor="middle">4</text>
<text transform="translate(586.80,798.20) scale(1,1.065)" font-size="21.5" font-weight="bold" text-anchor="end">-0.6</text>
<text transform="translate(586.80,729.40) scale(1,1.065)" font-size="21.5" font-weight="bold" text-anchor="end">-0.4</text>
<text transform="translate(586.80,660.60) scale(1,1.065)" font-size="21.5" font-weight="bold" text-anchor="end">-0.2</text>
<text transform="translate(586.80,591.80) scale(1,1.065)" font-size="21.5" font-weight="bold" text-anchor="end">0.0</text>
<text transform="translate(586.80,523.00) scale(1,1.065)" font-size="21.5" font-weight="bold" text-anchor="end">0.2</text>
<text transform="translate(586.80,454.20) scale(1,1.065)" font-size="21.5" font-weight="bold" text-anchor="end">0.4</text>
<!-- legend -->
<g>
<line x1="123.4" y1="8.5" x2="176.0" y2="8.4" stroke="#0f4c7e" stroke-width="3.3" stroke-linecap="round"/>
<text x="183" y="16.4" font-size="24" font-style="italic">f</text>
<text x="193.5" y="22.2" font-size="16" font-style="italic">z</text>
<text x="200.5" y="16.4" font-size="23.5">=0.0</text>
<line x1="282.8" y1="8.5" x2="335.4" y2="8.4" stroke="#eb5a62" stroke-width="3.3" stroke-linecap="round"/>
<text x="346.5" y="15.9" font-size="23"><tspan font-style="italic">Z</tspan>=2</text>
<line x1="424.3" y1="8.5" x2="477.2" y2="8.4" stroke="#fdd126" stroke-width="3.3" stroke-linecap="round"/>
<text x="488" y="15.9" font-size="23"><tspan font-style="italic">Z</tspan>=4</text>
<line x1="565.6" y1="8.5" x2="618.6" y2="8.4" stroke="#2b9e2b" stroke-width="3.3" stroke-linecap="round"/>
<text x="629.5" y="15.9" font-size="23"><tspan font-style="italic">Z</tspan>=6</text>
<line x1="707.3" y1="8.5" x2="758" y2="8.4" stroke="#f58b0f" stroke-width="3.3" stroke-linecap="round" stroke-dasharray="10.3 16.9"/>
<text x="772.2" y="15.9" font-size="23"><tspan font-style="italic">Z</tspan>=8</text>
<line x1="849.9" y1="8.5" x2="900" y2="8.4" stroke="#9360b4" stroke-width="3.3" stroke-linecap="round" stroke-dasharray="10.3 16.9"/>
<text x="913.6" y="15.9" font-size="23"><tspan font-style="italic">Z</tspan>=10</text>
</g>
<!-- panel labels -->
<text x="79" y="72.6" font-size="27" font-weight="bold">(a)</text>
<text x="1017" y="72.6" font-size="27" font-weight="bold" text-anchor="end">(b)</text>
<text x="79" y="477.6" font-size="27" font-weight="bold">(c)</text>
<text x="1017" y="477.6" font-size="27" font-weight="bold" text-anchor="end">(d)</text>
<text x="130.2" y="179.3" font-size="31" font-weight="bold"><tspan font-style="italic">ŝ</tspan> = -1.5</text>
<text x="130.0" y="547.9" font-size="31" font-weight="bold"><tspan font-style="italic">ŝ</tspan> = 1.5</text>
<text x="389" y="226.6" font-size="26" font-weight="bold">hybrid</text>
<text x="389.1" y="573.2" font-size="26" font-weight="bold">hybrid</text>
<text x="242" y="379.2" font-size="26" font-weight="bold">dominant</text>
<text x="247.0" y="782.2" font-size="25.7" font-weight="bold">coexistent</text>
<text x="730.9" y="136.3" font-size="26" font-weight="bold">TEM</text>
<text x="889.3" y="215.8" font-size="26" font-weight="bold">ITG mode</text>
<text x="683.4" y="275.4" font-size="26" font-weight="bold">TE-ITG mode</text>
<text x="731.2" y="545.2" font-size="26" font-weight="bold">TEM</text>
<text x="889.5" y="645.1" font-size="26" font-weight="bold">ITG mode</text>
<text x="662.7" y="703.6" font-size="26" font-weight="bold">TE-ITG mode</text>
<!-- axis labels -->
<g id="eta"><text x="275" y="430.7" font-size="29.5" font-weight="bold" font-style="italic">η</text><text x="290.6" y="437.8" font-size="19" font-weight="bold" font-style="italic">i</text></g>
<use href="#eta" x="522.8" y="0"/>
<use href="#eta" x="0" y="405"/>
<use href="#eta" x="522.8" y="405"/>
<g id="ylabA" transform="translate(21.9,250) rotate(-90)">
<text x="1.4" y="0" font-size="33" font-weight="bold">γ</text>
<text x="19.3" y="0" font-size="32" font-weight="bold">/</text>
<text x="25.5" y="0" font-size="33" font-weight="bold">ω</text>
<text x="50" y="6.7" font-size="21.5" font-weight="bold">*</text>
<text x="60.2" y="6.7" font-size="22" font-weight="bold">e</text>
</g>
<use href="#ylabA" x="0" y="405"/>
<g id="ylabB" transform="translate(543.4,255) rotate(-90)">
<text x="0" y="0" font-size="31.5" font-weight="bold">ω</text>
<text x="22" y="8.5" font-size="21" font-weight="bold">r</text>
<text x="30.5" y="0" font-size="32" font-weight="bold">/</text>
<text x="40.3" y="0" font-size="31.5" font-weight="bold">ω</text>
<text x="63.3" y="8.5" font-size="21.5" font-weight="bold">*</text>
<text x="75.3" y="8.5" font-size="22" font-weight="bold">e</text>
</g>
<use href="#ylabB" x="0" y="405"/>

</svg></body></html>
